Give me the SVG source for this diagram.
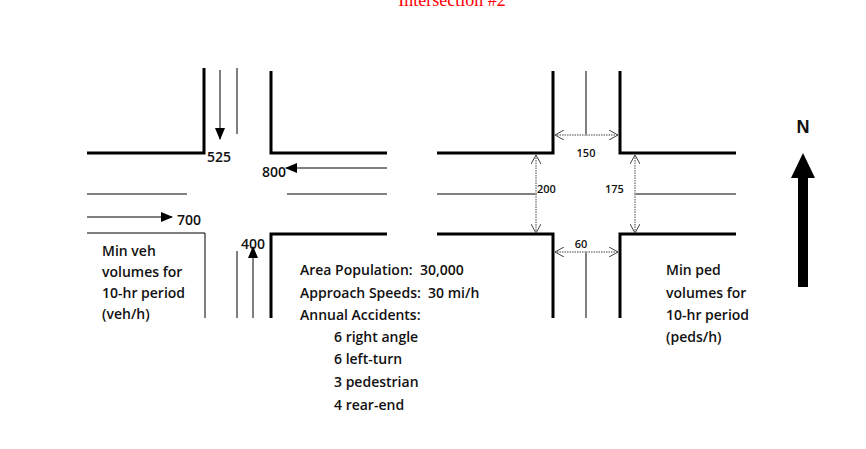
<svg xmlns="http://www.w3.org/2000/svg" width="866" height="449" viewBox="0 0 866 449">
<defs>
<style>
.k{stroke:#000;stroke-width:3;fill:none}
.t{stroke:#000;stroke-width:1;fill:none}
.d{stroke:#444;stroke-width:1;stroke-dasharray:1.5,1;fill:none}
.txt{font-family:"Open Sans","Liberation Sans",sans-serif;font-size:14px;font-weight:600;fill:#111;white-space:pre}
.sm{font-family:"Open Sans","Liberation Sans",sans-serif;font-size:11px;font-weight:600;fill:#111}
</style>
<marker id="ah" markerWidth="12" markerHeight="10" refX="11" refY="5" orient="auto" markerUnits="userSpaceOnUse"><path d="M0,0 L12,5 L0,10 Z" fill="#000"/></marker>
<marker id="oa" markerWidth="10" markerHeight="10" refX="9" refY="5" orient="auto" markerUnits="userSpaceOnUse"><path d="M0,0 L9,5 L0,10" fill="none" stroke="#444" stroke-width="1"/></marker>
</defs>
<rect width="866" height="449" fill="#fff"/>
<text x="452" y="6" text-anchor="middle" font-family="Liberation Serif,serif" font-size="18" fill="#f00">Intersection #2</text>
<g id="left-intersection">
<path class="k" d="M204,68 V153 H87 M271,71 V153 H387 M271,318 V234 H387"/>
<path class="t" d="M237,68 V134 M87,194 H187 M287,194 H387 M87,233 H205 V318 M237,251 V318"/>
</g>
<g id="right-intersection">
<path class="k" d="M553,71 V153 H437 M620,71 V153 H736 M437,234 H553 V318 M736,234 H620 V318"/>
<path class="t" d="M586,71 V134 M437,194 H535 M636,194 H736 M586,253 V318"/>
</g>
<g id="connectors">
<line class="t" x1="220" y1="70" x2="220" y2="139" marker-end="url(#ah)"/>
<line class="t" x1="387" y1="168" x2="286" y2="168" marker-end="url(#ah)"/>
<line class="t" x1="87" y1="217" x2="172" y2="217" marker-end="url(#ah)"/>
<line class="t" x1="253" y1="318" x2="253" y2="247" marker-end="url(#ah)"/>
<line class="d" x1="586" y1="135" x2="555" y2="135" marker-end="url(#oa)"/>
<line class="d" x1="586" y1="135" x2="618" y2="135" marker-end="url(#oa)"/>
<line class="d" x1="536" y1="194" x2="536" y2="155" marker-end="url(#oa)"/>
<line class="d" x1="536" y1="194" x2="536" y2="233" marker-end="url(#oa)"/>
<line class="d" x1="635" y1="194" x2="635" y2="155" marker-end="url(#oa)"/>
<line class="d" x1="635" y1="194" x2="635" y2="233" marker-end="url(#oa)"/>
<line class="d" x1="586" y1="252" x2="555" y2="252" marker-end="url(#oa)"/>
<line class="d" x1="586" y1="252" x2="618" y2="252" marker-end="url(#oa)"/>
</g>
<g id="labels" xml:space="preserve">
<text class="txt" x="207" y="162">525</text>
<text class="txt" x="262" y="177">800</text>
<text class="txt" x="177" y="225">700</text>
<text class="txt" x="241" y="249">400</text>
<text class="sm" x="586" y="157" text-anchor="middle">150</text>
<text class="sm" x="537" y="193">200</text>
<text class="sm" x="605" y="193">175</text>
<text class="sm" x="581" y="248" text-anchor="middle">60</text>
<text class="txt" x="102" y="256">Min veh</text>
<text class="txt" x="102" y="277">volumes for</text>
<text class="txt" x="102" y="298">10-hr period</text>
<text class="txt" x="102" y="319">(veh/h)</text>
<text class="txt" x="300" y="275">Area Population:  30,000</text>
<text class="txt" x="300" y="298">Approach Speeds:  30 mi/h</text>
<text class="txt" x="300" y="320">Annual Accidents:</text>
<text class="txt" x="334" y="342">6 right angle</text>
<text class="txt" x="334" y="364">6 left-turn</text>
<text class="txt" x="334" y="387">3 pedestrian</text>
<text class="txt" x="334" y="410">4 rear-end</text>
<text class="txt" x="666" y="275">Min ped</text>
<text class="txt" x="666" y="298">volumes for</text>
<text class="txt" x="666" y="320">10-hr period</text>
<text class="txt" x="666" y="342">(peds/h)</text>
</g>
<g id="north">
<text x="803" y="133" text-anchor="middle" font-family="Liberation Sans,sans-serif" font-weight="bold" font-size="18" fill="#111">N</text>
<path d="M803,153 L815,178 L808,178 L808,287 L798,287 L798,178 L791,178 Z" fill="#000"/>
</g>
</svg>
